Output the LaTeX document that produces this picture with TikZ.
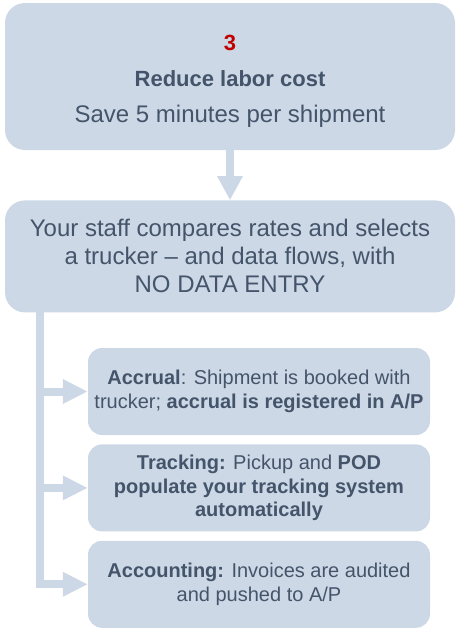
\documentclass[tikz,border=0pt]{standalone}
\usepackage{fontspec}
\setmainfont{Liberation Sans}
\usetikzlibrary{arrows.meta,positioning}
\definecolor{boxfill}{HTML}{CDD8E6}
\definecolor{boxtext}{HTML}{44546A}
\definecolor{stepred}{HTML}{C00000}

\begin{document}
\begin{tikzpicture}[
  x=1pt,y=1pt,
  node distance=50pt,
  bigbox/.style={fill=boxfill,rounded corners=20pt,minimum width=450pt,align=center,text=boxtext,inner sep=0pt},
  smallbox/.style={fill=boxfill,rounded corners=14pt,minimum width=342pt,minimum height=87pt,align=center,text=boxtext,inner sep=0pt,font=\fontsize{20}{23.5}\selectfont},
  flow/.style={-{Triangle[length=24pt,width=24pt]},line width=8pt,boxfill},
  branch/.style={flow,-{Triangle[length=25pt,width=23pt]}}
]
\useasboundingbox (0,0) rectangle (459,-635);
\node[bigbox,minimum height=147pt,font=\fontsize{24}{36}\selectfont] (goal) at (230,-76.5)
  {\rule{0pt}{24pt}{\fontsize{22}{36}\selectfont\bfseries\color{stepred}3}\\
   {\fontsize{22}{36}\selectfont\bfseries Reduce labor cost}\\
   Save 5 minutes per shipment};
\node[bigbox,minimum height=112pt,below=of goal,font=\fontsize{24}{28}\selectfont] (staff)
  {Your staff compares rates and selects\\
   a trucker -- and data flows, with\\
   NO DATA ENTRY};
\draw[flow] (goal) -- (staff);
\node[smallbox] (accrual) at (259,-391.5)
  {\textbf{Accrual}: Shipment is booked with\\
   trucker; \textbf{accrual is registered in A/P}};
\node[smallbox,below=9pt of accrual] (tracking)
  {\textbf{Tracking:} Pickup and \textbf{POD}\\
   \textbf{populate your tracking system}\\
   \textbf{automatically}};
\node[smallbox,below=9pt of tracking] (accounting)
  {\textbf{Accounting:} Invoices are audited\\
   and pushed to A/P};
\coordinate (trunk) at ([xshift=35pt,yshift=2pt]staff.south west);
\draw[branch] (trunk) |- (accounting.west);
\draw[branch] (trunk |- accrual.west) -- (accrual.west);
\draw[branch] (trunk |- tracking.west) -- (tracking.west);
\end{tikzpicture}
\end{document}
